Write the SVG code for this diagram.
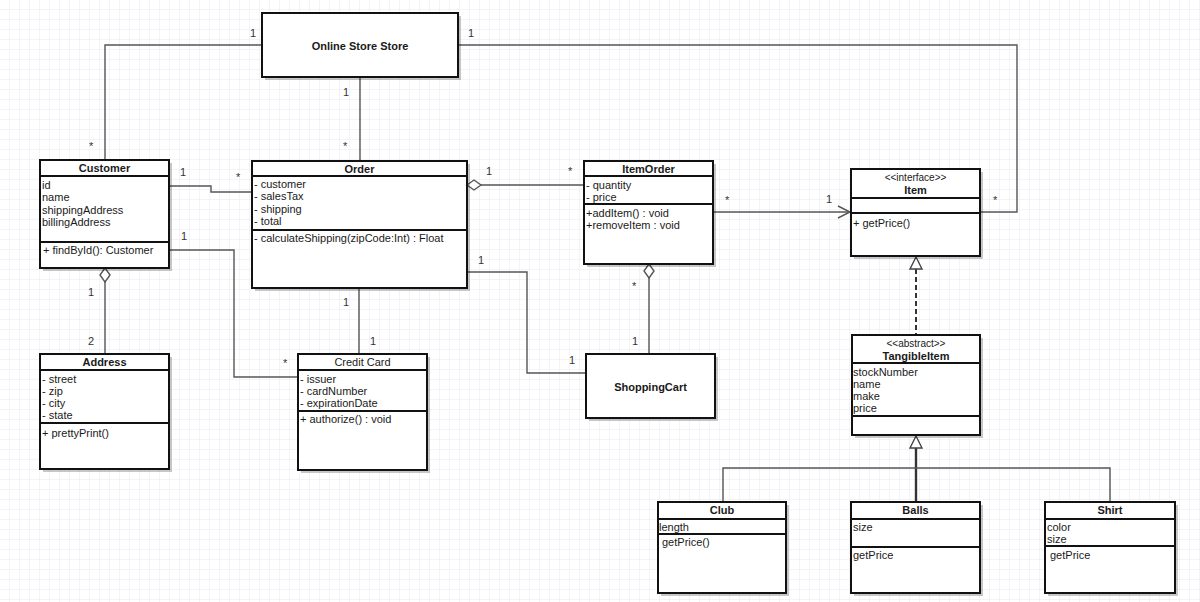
<svg xmlns="http://www.w3.org/2000/svg" width="1200" height="602" viewBox="0 0 1200 602">
<defs>
<pattern id="grid" width="10" height="10" patternUnits="userSpaceOnUse">
<path d="M10 0V10M0 10H10" fill="none" stroke="#e9e9f1" stroke-width="1"/>
</pattern>
<style>
text{font-family:"Liberation Sans",Arial,sans-serif;font-size:11px;fill:#1a1a1a}
.t{font-weight:bold;text-anchor:middle}
.c{text-anchor:middle}
.s{font-size:10px;text-anchor:middle}
.m{fill:#333}
.box{fill:#fff;stroke:#111;stroke-width:2}
.sh{fill:#000;opacity:0.22}
.sep{stroke:#111;stroke-width:2}
.ln{fill:none;stroke:#555;stroke-width:1.4}
</style>
</defs>
<rect width="1200" height="602" fill="#fff"/>
<rect width="1200" height="602" fill="url(#grid)"/>

<g id="connectors">
<polyline class="ln" points="105,160 105,45 262,45"/>
<line class="ln" x1="360" y1="77" x2="360" y2="161"/>
<polyline class="ln" points="458,45 1017,45 1017,212 980,212"/>
<polyline class="ln" points="170,186 211,186 211,192 252,192"/>
<polyline class="ln" points="170,250 234,250 234,377 298,377"/>
<line class="ln" x1="105" y1="282" x2="105" y2="354"/>
<polygon points="105,268 110,275 105,282 100,275" fill="#fff" stroke="#555" stroke-width="1.4"/>
<line class="ln" x1="481" y1="185" x2="584" y2="185"/>
<polygon points="467,185 474,180 481,185 474,190" fill="#fff" stroke="#555" stroke-width="1.4"/>
<polyline class="ln" points="467,272 527,272 527,373 586,373"/>
<line class="ln" x1="359" y1="288" x2="359" y2="354"/>
<line class="ln" x1="649" y1="278" x2="649" y2="354"/>
<polygon points="649,264 654,271 649,278 644,271" fill="#fff" stroke="#555" stroke-width="1.4"/>
<line class="ln" x1="713" y1="212" x2="850" y2="212"/>
<polyline class="ln" points="838,206 850,212 838,218"/>
<line x1="916" y1="269" x2="916" y2="335" stroke="#333" stroke-width="2" stroke-dasharray="5,3"/>
<polygon points="916,257 922,269 910,269" fill="#fff" stroke="#444" stroke-width="1.4"/>
<line x1="916" y1="448" x2="916" y2="502" stroke="#333" stroke-width="2.4"/>
<polyline class="ln" points="723,502 723,468 1110,468 1110,502"/>
<polygon points="916,436 922,448 910,448" fill="#fff" stroke="#444" stroke-width="1.4"/>
<text x="250" y="37" class="m">1</text>
<text x="89" y="150" class="m">*</text>
<text x="343" y="96" class="m">1</text>
<text x="343" y="150" class="m">*</text>
<text x="468" y="37" class="m">1</text>
<text x="993" y="204" class="m">*</text>
<text x="180" y="176" class="m">1</text>
<text x="236" y="181" class="m">*</text>
<text x="181" y="240" class="m">1</text>
<text x="283" y="367" class="m">*</text>
<text x="88" y="296" class="m">1</text>
<text x="88" y="345" class="m">2</text>
<text x="486" y="175" class="m">1</text>
<text x="568" y="175" class="m">*</text>
<text x="478" y="264" class="m">1</text>
<text x="569" y="364" class="m">1</text>
<text x="343" y="306" class="m">1</text>
<text x="370" y="345" class="m">1</text>
<text x="632" y="290" class="m">*</text>
<text x="632" y="345" class="m">1</text>
<text x="725" y="204" class="m">*</text>
<text x="826" y="203" class="m">1</text>
</g>

<g id="online-store">
<rect class="sh" x="265" y="16" width="196" height="64"/>
<rect class="box" x="262" y="13" width="196" height="64"/>
<text x="360" y="50" class="t">Online Store Store</text>
</g>

<g id="customer">
<rect class="sh" x="43" y="163" width="129" height="108"/>
<rect class="box" x="40" y="160" width="129" height="108"/>
<line class="sep" x1="40" y1="176" x2="169" y2="176"/>
<line class="sep" x1="40" y1="242" x2="169" y2="242"/>
<text x="104.5" y="172" class="t">Customer</text>
<text x="42" y="189">id</text>
<text x="42" y="201">name</text>
<text x="42" y="214">shippingAddress</text>
<text x="42" y="226">billingAddress</text>
<text x="43" y="254">+ findById(): Customer</text>
</g>

<g id="order">
<rect class="sh" x="255" y="164" width="215" height="127"/>
<rect class="box" x="252" y="161" width="215" height="127"/>
<line class="sep" x1="252" y1="176" x2="467" y2="176"/>
<line class="sep" x1="252" y1="230" x2="467" y2="230"/>
<text x="359.5" y="173" class="t">Order</text>
<text x="254" y="188">- customer</text>
<text x="254" y="200">- salesTax</text>
<text x="254" y="213">- shipping</text>
<text x="254" y="225">- total</text>
<text x="254" y="242">- calculateShipping(zipCode:Int) : Float</text>
</g>

<g id="itemorder">
<rect class="sh" x="587" y="164" width="129" height="103"/>
<rect class="box" x="584" y="161" width="129" height="103"/>
<line class="sep" x1="584" y1="176" x2="713" y2="176"/>
<line class="sep" x1="584" y1="204" x2="713" y2="204"/>
<text x="648.5" y="173" class="t">ItemOrder</text>
<text x="586" y="189">- quantity</text>
<text x="586" y="201">- price</text>
<text x="586" y="217">+addItem() : void</text>
<text x="586" y="229">+removeItem : void</text>
</g>

<g id="item">
<rect class="sh" x="854" y="172" width="129" height="87"/>
<rect class="box" x="851" y="169" width="129" height="87"/>
<line class="sep" x1="851" y1="198" x2="980" y2="198"/>
<line class="sep" x1="851" y1="213" x2="980" y2="213"/>
<text x="915.5" y="181" class="s">&lt;&lt;interface&gt;&gt;</text>
<text x="915.5" y="194" class="t">Item</text>
<text x="853" y="227">+ getPrice()</text>
</g>

<g id="address">
<rect class="sh" x="43" y="357" width="129" height="115"/>
<rect class="box" x="40" y="354" width="129" height="115"/>
<line class="sep" x1="40" y1="370" x2="169" y2="370"/>
<line class="sep" x1="40" y1="423" x2="169" y2="423"/>
<text x="104.5" y="366" class="t">Address</text>
<text x="42" y="383">- street</text>
<text x="42" y="395">- zip</text>
<text x="42" y="407">- city</text>
<text x="42" y="419">- state</text>
<text x="42" y="437">+ prettyPrint()</text>
</g>

<g id="creditcard">
<rect class="sh" x="301" y="357" width="129" height="116"/>
<rect class="box" x="298" y="354" width="129" height="116"/>
<line class="sep" x1="298" y1="370" x2="427" y2="370"/>
<line class="sep" x1="298" y1="411" x2="427" y2="411"/>
<text x="362.5" y="366" class="t" style="font-weight:normal">Credit Card</text>
<text x="300" y="383">- issuer</text>
<text x="300" y="395">- cardNumber</text>
<text x="300" y="407">- expirationDate</text>
<text x="300" y="423">+ authorize() : void</text>
</g>

<g id="shoppingcart">
<rect class="sh" x="589" y="357" width="129" height="64"/>
<rect class="box" x="586" y="354" width="129" height="64"/>
<text x="650.5" y="391" class="t">ShoppingCart</text>
</g>

<g id="tangibleitem">
<rect class="sh" x="855" y="338" width="128" height="100"/>
<rect class="box" x="852" y="335" width="128" height="100"/>
<line class="sep" x1="852" y1="363" x2="980" y2="363"/>
<line class="sep" x1="852" y1="416" x2="980" y2="416"/>
<text x="916" y="347" class="s">&lt;&lt;abstract&gt;&gt;</text>
<text x="916" y="360" class="t">TangibleItem</text>
<text x="853" y="376">stockNumber</text>
<text x="853" y="388">name</text>
<text x="853" y="400">make</text>
<text x="853" y="412">price</text>
</g>

<g id="club">
<rect class="sh" x="661" y="505" width="128" height="91"/>
<rect class="box" x="658" y="502" width="128" height="91"/>
<line class="sep" x1="658" y1="519" x2="786" y2="519"/>
<line class="sep" x1="658" y1="534" x2="786" y2="534"/>
<text x="722" y="514" class="t">Club</text>
<text x="659" y="531">length</text>
<text x="662" y="546">getPrice()</text>
</g>

<g id="balls">
<rect class="sh" x="854" y="505" width="129" height="91"/>
<rect class="box" x="851" y="502" width="129" height="91"/>
<line class="sep" x1="851" y1="519" x2="980" y2="519"/>
<line class="sep" x1="851" y1="547" x2="980" y2="547"/>
<text x="915.5" y="514" class="t">Balls</text>
<text x="853" y="531">size</text>
<text x="853" y="559">getPrice</text>
</g>

<g id="shirt">
<rect class="sh" x="1048" y="505" width="130" height="91"/>
<rect class="box" x="1045" y="502" width="130" height="91"/>
<line class="sep" x1="1045" y1="519" x2="1175" y2="519"/>
<line class="sep" x1="1045" y1="546" x2="1175" y2="546"/>
<text x="1110" y="514" class="t">Shirt</text>
<text x="1047" y="531">color</text>
<text x="1047" y="543">size</text>
<text x="1050" y="559">getPrice</text>
</g>
</svg>
